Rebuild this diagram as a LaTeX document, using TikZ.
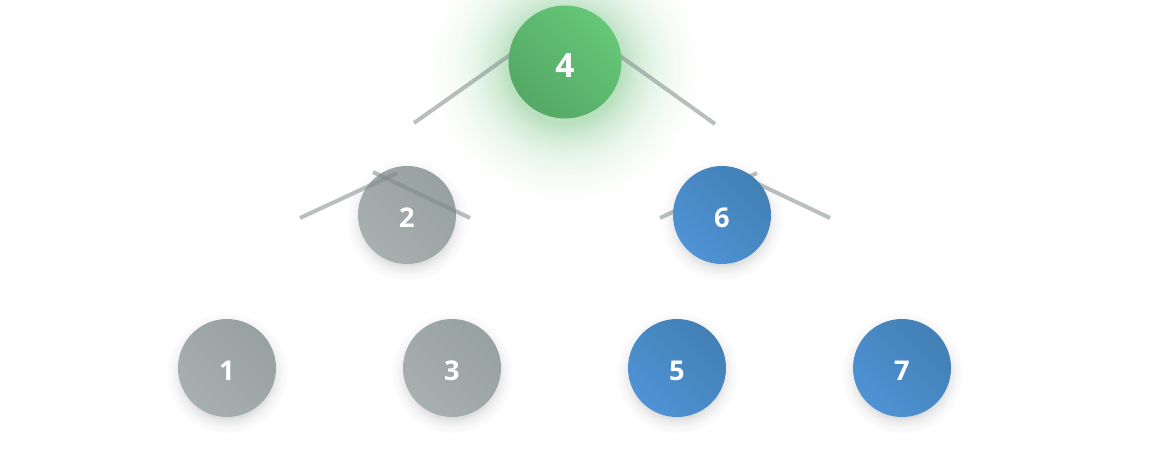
\documentclass[tikz,border=0pt]{standalone}
\usepackage{fontspec}
\setmainfont{Open Sans}
\usetikzlibrary{calc}

\definecolor{edgegray}{RGB}{128,138,138}
\definecolor{greenA}{RGB}{101,199,121}
\definecolor{greenB}{RGB}{85,168,101}
\definecolor{blueA}{RGB}{66,128,180}
\definecolor{blueB}{RGB}{79,147,213}
\definecolor{grayA}{RGB}{152,161,161}
\definecolor{grayB}{RGB}{167,175,175}
\definecolor{glow0}{RGB}{186,224,192}
\definecolor{glow1}{RGB}{210,235,214}
\definecolor{glow2}{RGB}{232,245,234}
\definecolor{glow3}{RGB}{246,251,246}
\definecolor{shad0}{RGB}{215,215,215}
\definecolor{shad1}{RGB}{236,236,236}
\definecolor{shad2}{RGB}{247,247,247}

\pgfdeclareradialshading{glowshade}{\pgfpoint{0bp}{0bp}}{color(0bp)=(glow0); color(10.3bp)=(glow0); color(13bp)=(glow1); color(16.5bp)=(glow2); color(20.5bp)=(glow3); color(25bp)=(white); color(50bp)=(white)}
\pgfdeclareradialshading{shadowshade}{\pgfpoint{0bp}{0bp}}{color(0bp)=(shad0); color(17bp)=(shad0); color(19.8bp)=(shad1); color(22bp)=(shad2); color(25bp)=(white); color(50bp)=(white)}

\pgfdeclarelayer{edgelayer}
\pgfsetlayers{edgelayer,main}

\tikzset{
    treenode/.style={circle, minimum size=1.96cm, inner sep=0pt, text=white,
        text height=14.4pt, text depth=0pt,
        font=\fontsize{15.5pt}{18pt}\selectfont\bfseries},
    rootnode/.style={circle, minimum size=2.26cm, inner sep=0pt, text=white,
        text height=17.2pt, text depth=0pt,
        font=\fontsize{19pt}{22pt}\selectfont\bfseries,
        top color=greenA, bottom color=greenB, shading angle=-45},
    bluenode/.style={treenode, top color=blueA, bottom color=blueB, shading angle=-45},
    graynode/.style={treenode, top color=grayA, bottom color=grayB, shading angle=-45},
    link/.style={draw=edgegray, draw opacity=.55, line width=0.08cm}
}

\begin{document}
\begin{tikzpicture}[x=0.02cm, y=-0.02cm]
    \useasboundingbox (0,0) rectangle (1155,473);

    \node[rootnode] (n4) at (565,62) {4};

    \node[graynode] (n2) at (407,215) {2};
    \node[bluenode] (n6) at (722,215) {6};

    \node[graynode] (n1) at (227,368) {1};
    \node[graynode] (n3) at (452,368) {3};
    \node[bluenode] (n5) at (677,368) {5};
    \node[bluenode] (n7) at (902,368) {7};

    \coordinate (e4a) at (414,123);
    \coordinate (e4b) at (715,124);
    \coordinate (s6a) at (660,218);  \coordinate (e6a) at (757,173);
    \coordinate (s6b) at (733,172);  \coordinate (e6b) at (830,218);
    \coordinate (s2a) at (300,218);  \coordinate (e2a) at (397,173);
    \coordinate (s2b) at (373,172);  \coordinate (e2b) at (470,218);

    \begin{pgfonlayer}{edgelayer}
        \fill[white] (0,0) rectangle (1155,473);
        \shade[shading=glowshade] ($(n4.center)+(0,5)$) circle (136);
        \foreach \n in {n1,n2,n3,n5,n6,n7}
            \shade[shading=shadowshade] ($(\n.center)+(0,5)$) circle (62);
        \draw[link] (e4a) -- ($(e4a)!1.15!(n4.174)$);
        \draw[link] (e4b) -- ($(e4b)!1.15!(n4.5)$);
        \draw[link] (s6a) -- (e6a);
        \draw[link] (s6b) -- (e6b);
    \end{pgfonlayer}

    \draw[link] (s2a) -- (e2a);
    \draw[link] (s2b) -- (e2b);

\end{tikzpicture}
\end{document}
